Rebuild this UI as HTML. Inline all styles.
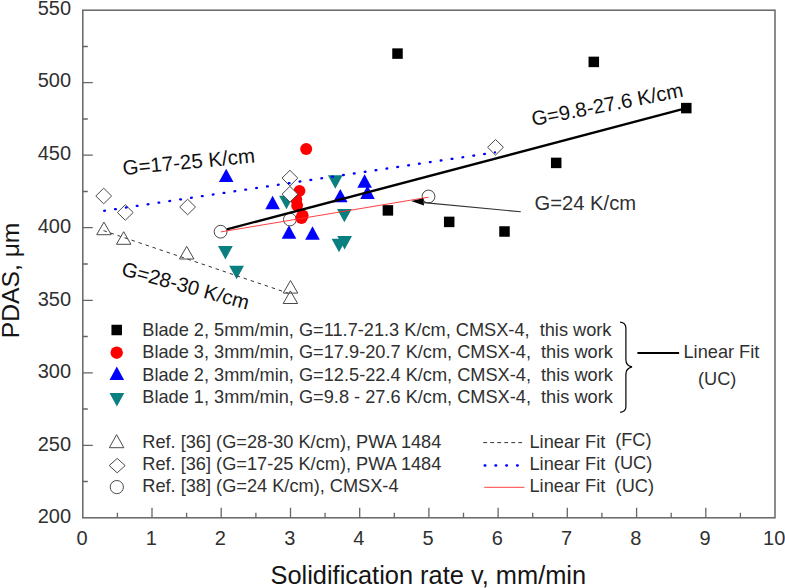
<!DOCTYPE html>
<html><head><meta charset="utf-8">
<style>
html,body{margin:0;padding:0;background:#fff;}
body{width:785px;height:588px;overflow:hidden;}
svg{display:block;}
text{font-family:"Liberation Sans",sans-serif;fill:#303030;}
</style></head><body>
<svg width="785" height="588" viewBox="0 0 785 588">
<rect x="82.8" y="10.2" width="692.2" height="507.59999999999997" fill="none" stroke="#666" stroke-width="1.5"/>
<path d="M117.4 517.8v-5 M152.0 517.8v-10 M186.6 517.8v-5 M221.2 517.8v-10 M255.9 517.8v-5 M290.5 517.8v-10 M325.1 517.8v-5 M359.7 517.8v-10 M394.3 517.8v-5 M428.9 517.8v-10 M463.5 517.8v-5 M498.1 517.8v-10 M532.7 517.8v-5 M567.3 517.8v-10 M601.9 517.8v-5 M636.6 517.8v-10 M671.2 517.8v-5 M705.8 517.8v-10 M740.4 517.8v-5 M82.8 481.5h5 M82.8 445.3h10 M82.8 409.0h5 M82.8 372.8h10 M82.8 336.5h5 M82.8 300.3h10 M82.8 264.0h5 M82.8 227.7h10 M82.8 191.5h5 M82.8 155.2h10 M82.8 119.0h5 M82.8 82.7h10 M82.8 46.5h5" stroke="#666" stroke-width="1.3" fill="none"/>
<g font-size="20" text-anchor="end">
<text x="71.1" y="523.4">200</text>
<text x="71.1" y="450.9">250</text>
<text x="71.1" y="378.4">300</text>
<text x="71.1" y="305.9">350</text>
<text x="71.1" y="233.3">400</text>
<text x="71.1" y="159.9">450</text>
<text x="71.1" y="87.4">500</text>
<text x="71.1" y="14.9">550</text>
</g>
<g font-size="20" text-anchor="middle">
<text x="82.0" y="544.8">0</text>
<text x="151.2" y="544.8">1</text>
<text x="220.4" y="544.8">2</text>
<text x="289.7" y="544.8">3</text>
<text x="358.9" y="544.8">4</text>
<text x="428.1" y="544.8">5</text>
<text x="497.3" y="544.8">6</text>
<text x="566.5" y="544.8">7</text>
<text x="635.8" y="544.8">8</text>
<text x="705.0" y="544.8">9</text>
<text x="774.2" y="544.8">10</text>
</g>
<text x="270.5" y="583.5" font-size="25.4" style="fill:#151515">Solidification rate v, mm/min</text>
<text transform="translate(18.6,338.3) rotate(-90)" font-size="24.7" style="fill:#151515">PDAS, μm</text>
<rect x="392.25" y="48.35" width="10.5" height="10.5" fill="#000"/>
<rect x="588.55" y="56.65" width="10.5" height="10.5" fill="#000"/>
<rect x="681.05" y="102.85" width="10.5" height="10.5" fill="#000"/>
<rect x="550.95" y="157.65" width="10.5" height="10.5" fill="#000"/>
<rect x="382.65" y="205.15" width="10.5" height="10.5" fill="#000"/>
<rect x="443.95" y="216.65" width="10.5" height="10.5" fill="#000"/>
<rect x="499.25" y="226.25" width="10.5" height="10.5" fill="#000"/>
<path d="M218.00 246.00H232.80L225.40 259.40Z" fill="#0a7f80"/>
<path d="M229.20 265.80H244.00L236.60 279.20Z" fill="#0a7f80"/>
<path d="M279.10 195.80H293.90L286.50 209.20Z" fill="#0a7f80"/>
<path d="M327.90 175.30H342.70L335.30 188.70Z" fill="#0a7f80"/>
<path d="M337.00 208.90H351.80L344.40 222.30Z" fill="#0a7f80"/>
<path d="M331.60 238.80H346.40L339.00 252.20Z" fill="#0a7f80"/>
<path d="M337.20 236.10H352.00L344.60 249.50Z" fill="#0a7f80"/>
<path d="M226.20 168.70L233.50 182.10H218.90Z" fill="#0000ff" stroke="none" stroke-width="0"/>
<path d="M272.60 195.80L279.90 209.20H265.30Z" fill="#0000ff" stroke="none" stroke-width="0"/>
<path d="M289.00 225.30L296.30 238.70H281.70Z" fill="#0000ff" stroke="none" stroke-width="0"/>
<path d="M312.50 226.30L319.80 239.70H305.20Z" fill="#0000ff" stroke="none" stroke-width="0"/>
<path d="M340.30 188.90L347.60 202.30H333.00Z" fill="#0000ff" stroke="none" stroke-width="0"/>
<path d="M364.60 174.30L371.90 187.70H357.30Z" fill="#0000ff" stroke="none" stroke-width="0"/>
<path d="M367.50 185.60L374.80 199.00H360.20Z" fill="#0000ff" stroke="none" stroke-width="0"/>
<circle cx="220.6" cy="231.7" r="6.4" fill="#fff" stroke="#4a4a4a" stroke-width="1"/>
<circle cx="289.9" cy="219.5" r="6.4" fill="#fff" stroke="#4a4a4a" stroke-width="1"/>
<circle cx="428.5" cy="196.5" r="6.4" fill="#fff" stroke="#4a4a4a" stroke-width="1"/>
<circle cx="306.2" cy="149.1" r="6" fill="#ff0000" stroke="none" stroke-width="0"/>
<circle cx="299.5" cy="190.8" r="5.9" fill="#ff0000" stroke="none" stroke-width="0"/>
<circle cx="296.3" cy="199.5" r="5.9" fill="#ff0000" stroke="none" stroke-width="0"/>
<circle cx="297.15" cy="205.5" r="5.9" fill="#ff0000" stroke="none" stroke-width="0"/>
<circle cx="302.5" cy="215.6" r="6.1" fill="#ff0000" stroke="none" stroke-width="0"/>
<circle cx="301.5" cy="218" r="6.1" fill="#ff0000" stroke="none" stroke-width="0"/>
<line x1="103.5" y1="230.6" x2="288.2" y2="293.2" stroke="#333" stroke-width="1" stroke-dasharray="3.5 3.9"/>
<line x1="226.7" y1="229.4" x2="686.3" y2="108.2" stroke="#000" stroke-width="2.3"/>
<line x1="220.8" y1="231.9" x2="428.5" y2="197.2" stroke="#ff2a2a" stroke-width="0.9"/>
<path d="M103.95 222.10L111.20 234.70H96.70Z" fill="none" stroke="#4a4a4a" stroke-width="1"/>
<path d="M123.70 231.70L130.95 244.30H116.45Z" fill="none" stroke="#4a4a4a" stroke-width="1"/>
<path d="M186.70 246.40L193.95 259.00H179.45Z" fill="none" stroke="#4a4a4a" stroke-width="1"/>
<path d="M290.50 280.50L297.75 293.10H283.25Z" fill="none" stroke="#4a4a4a" stroke-width="1"/>
<path d="M290.40 290.90L297.65 303.50H283.15Z" fill="none" stroke="#4a4a4a" stroke-width="1"/>
<path d="M103.7 188.2L111.60000000000001 196L103.7 203.8L95.8 196Z" fill="#fff" stroke="#4a4a4a" stroke-width="1"/>
<path d="M125.3 204.7L133.2 212.5L125.3 220.3L117.39999999999999 212.5Z" fill="#fff" stroke="#4a4a4a" stroke-width="1"/>
<path d="M187.6 199.2L195.5 207L187.6 214.8L179.7 207Z" fill="#fff" stroke="#4a4a4a" stroke-width="1"/>
<path d="M289.9 170.29999999999998L297.79999999999995 178.1L289.9 185.9L282.0 178.1Z" fill="#fff" stroke="#4a4a4a" stroke-width="1"/>
<path d="M289.9 186.39999999999998L297.79999999999995 194.2L289.9 202.0L282.0 194.2Z" fill="#fff" stroke="#4a4a4a" stroke-width="1"/>
<path d="M495.5 139.5L503.4 147.3L495.5 155.10000000000002L487.6 147.3Z" fill="#fff" stroke="#4a4a4a" stroke-width="1"/>
<line x1="104.2" y1="210.8" x2="495" y2="152.4" stroke="#0000ff" stroke-width="2.3" stroke-linecap="round" stroke-dasharray="0.8 10.176"/>
<line x1="424" y1="202.6" x2="520.8" y2="211.8" stroke="#333" stroke-width="1.1"/>
<path d="M411.1 201.1L423.5 198.3L424 205.5Z" fill="#000"/>
<text style="fill:#111" font-size="20.5" transform="translate(123.3,175.0) rotate(-5.4)">G=17-25 K/cm</text>
<text style="fill:#111" font-size="20.3" transform="translate(120.5,275.0) rotate(15.3)">G=28-30 K/cm</text>
<text style="fill:#111" font-size="20.3" transform="translate(533.1,126.0) rotate(-11.0)">G=9.8-27.6 K/cm</text>
<text font-size="20.2" x="534.5" y="209.8">G=24 K/cm</text>
<g font-size="18.2">
<text x="142.3" y="336.0" xml:space="preserve">Blade 2, 5mm/min, G=11.7-21.3 K/cm, CMSX-4,  this work</text>
<text x="142.3" y="358.3" xml:space="preserve">Blade 3, 3mm/min, G=17.9-20.7 K/cm, CMSX-4,  this work</text>
<text x="142.3" y="380.6" xml:space="preserve">Blade 2, 3mm/min, G=12.5-22.4 K/cm, CMSX-4,  this work</text>
<text x="142.3" y="402.9" xml:space="preserve">Blade 1, 3mm/min, G=9.8 - 27.6 K/cm, CMSX-4,  this work</text>
<text x="142.3" y="447.7">Ref. [36] (G=28-30 K/cm), PWA 1484</text>
<text x="142.3" y="470.0">Ref. [36] (G=17-25 K/cm), PWA 1484</text>
<text x="142.3" y="492.3">Ref. [38] (G=24 K/cm), CMSX-4</text>
<text x="529.5" y="447.5">Linear Fit</text>
<text x="529.5" y="469.7">Linear Fit</text>
<text x="529.5" y="491.9">Linear Fit</text>
<text x="615.2" y="446.1">(FC)</text><text x="613.9" y="469.3">(UC)</text><text x="615.6" y="491.9">(UC)</text>
<text x="683.5" y="357.7">Linear Fit</text>
<text x="698" y="384.6">(UC)</text>
</g>
<rect x="111.45" y="324.75" width="10.5" height="10.5" fill="#000"/><circle cx="116.7" cy="352.7" r="6.2" fill="#ff0000" stroke="none" stroke-width="0"/><path d="M116.80 366.60L124.10 380.00H109.50Z" fill="#0000ff" stroke="none" stroke-width="0"/><path d="M109.50 393.00H124.30L116.90 406.40Z" fill="#0a7f80"/>
<path d="M116.60 434.70L123.85 447.70H109.35Z" fill="none" stroke="#4a4a4a" stroke-width="1"/><path d="M117.2 458.40000000000003L125.2 465.6L117.2 472.8L109.2 465.6Z" fill="#fff" stroke="#4a4a4a" stroke-width="1"/><circle cx="116.8" cy="487.1" r="6.6" fill="none" stroke="#4a4a4a" stroke-width="1"/>
<line x1="483.3" y1="442.6" x2="522.1" y2="442.6" stroke="#333" stroke-width="1" stroke-dasharray="3.8 3.2"/>
<line x1="484.6" y1="465.5" x2="518" y2="465.5" stroke="#0000ff" stroke-width="2.3" stroke-linecap="round" stroke-dasharray="0.8 10"/>
<line x1="484.2" y1="487.4" x2="524.4" y2="487.4" stroke="#f66" stroke-width="1.2"/>
<line x1="637.4" y1="353.1" x2="679.1" y2="353.1" stroke="#000" stroke-width="2"/>
<path d="M620.1 322.1C624 322.5 625.9 325 625.9 328V360C625.9 364 628 366 632 366.9C628 368 625.9 370 625.9 374V406.8C625.9 410 624 412 620.1 412.3" fill="none" stroke="#000" stroke-width="1.2"/>
</svg>
</body></html>
